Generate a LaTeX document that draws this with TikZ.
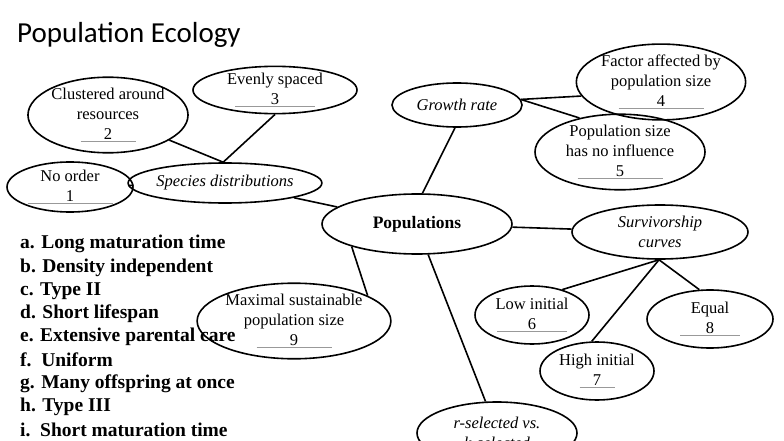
\documentclass[tikz,border=0pt]{standalone}
\usepackage{fontspec}
\setmainfont{Liberation Serif}
\newfontfamily\titlefont{Carlito}
\usetikzlibrary{shapes.geometric}
\newcommand{\blk}[2]{\rlap{\color{gray!80}\rule[-2pt]{#2}{0.8pt}}\makebox[#2]{#1}}
\tikzset{
  ell/.style={draw,ellipse,line width=1.6pt,inner sep=0pt,align=center,
    font=\fontsize{16.5}{20}\selectfont},
  con/.style={line width=1.6pt},
  lst/.style={anchor=west,font=\fontsize{19.5}{20}\selectfont\bfseries,inner sep=0pt}
}
\begin{document}
\begin{tikzpicture}[x=1pt,y=-1pt]
\useasboundingbox[fill=white] (0,0) rectangle (784,441);
\node[anchor=west,inner sep=0pt,font=\fontsize{29}{30}\selectfont\titlefont] (title) at (17,35) {Population Ecology};
\node[ell,minimum width=136pt,minimum height=60pt] (clu) at (108,115) {Clustered around\\resources\\\blk{2}{55pt}};
\node[ell,minimum width=164pt,minimum height=44pt] (eve) at (275,90) {Evenly spaced\\\blk{3}{80pt}};
\node[ell,minimum width=126pt,minimum height=50pt] (noo) at (70,187) {No order\\\blk{1}{85pt}};
\node[ell,minimum width=164pt,minimum height=40pt,font=\fontsize{16.5}{20}\selectfont\itshape] (spe) at (225,183) {Species distributions};
\node[ell,minimum width=190pt,minimum height=60pt,font=\fontsize{17.5}{20}\selectfont\bfseries] (pop) at (417,224) {Populations};
\node[ell,minimum width=130pt,minimum height=44pt,font=\fontsize{16.5}{20}\selectfont\itshape] (gro) at (457,105) {Growth rate};
\node[ell,minimum width=150pt,minimum height=58pt] (fac) at (661,82) {Factor affected by\\population size\\\blk{4}{85pt}};
\node[ell,minimum width=170pt,minimum height=60pt] (non) at (620,152) {Population size\\has no influence\\\blk{5}{85pt}};
\node[ell,minimum width=176pt,minimum height=54pt,font=\fontsize{16.5}{20}\selectfont\itshape] (sur) at (660,232) {Survivorship\\curves};
\node[ell,minimum width=114pt,minimum height=58pt] (low) at (532,315) {Low initial\\\blk{6}{70pt}};
\node[ell,minimum width=126pt,minimum height=58pt] (equ) at (710,319) {Equal\\\blk{8}{60pt}};
\node[ell,minimum width=114pt,minimum height=58pt] (hig) at (597,371) {High initial\\\blk{7}{35pt}};
\node[ell,minimum width=190pt,minimum height=60pt] (max) at (294,321) {Maximal sustainable\\population size\\\blk{9}{75pt}};
\node[ell,minimum width=160pt,minimum height=62pt,font=\fontsize{16.5}{20}\selectfont\itshape] (rk) at (497,433) {r-selected vs.\\k-selected};
\draw[con] (clu) -- (spe.95);
\draw[con] (eve.270) -- (spe.95);
\draw[con] (noo) -- (spe);
\draw[con] (spe) -- (pop);
\draw[con] (pop.199) -- (max.19);
\draw[con] (pop.290) -- (rk.110);
\draw[con] (pop) -- (sur);
\draw[con] (gro.265) -- (pop.80);
\draw[con] (gro.5) -- (fac.190);
\draw[con] (gro.5) -- (non.140);
\draw[con] (sur.268) -- (low.40);
\draw[con] (sur.268) -- (hig.100);
\draw[con] (sur.268) -- (equ.110);
\node[lst] (la) at (20,244) {a. Long maturation time};
\node[lst] (lb) at (20,268) {b. Density independent};
\node[lst] (lc) at (20,291) {c. Type II};
\node[lst] (ld) at (20,314) {d. Short lifespan};
\node[lst] (le) at (20,337) {e. Extensive parental care};
\node[lst] (lf) at (20,360) {f.\ \ Uniform};
\node[lst] (lg) at (20,384) {g. Many offspring at once};
\node[lst] (lh) at (20,407) {h. Type III};
\node[lst] (li) at (20,430) {i.\ \ Short maturation time};
\end{tikzpicture}
\end{document}
